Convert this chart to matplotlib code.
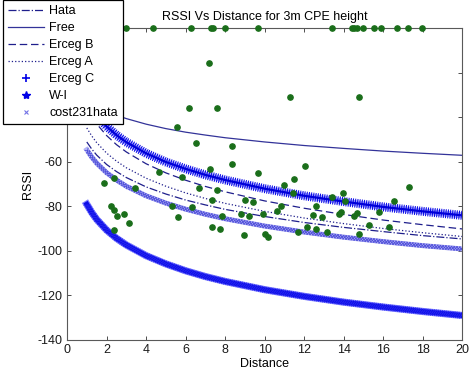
import numpy as np
import matplotlib
matplotlib.use("Agg")
import matplotlib.pyplot as plt
from matplotlib import patheffects as pe
from matplotlib.lines import Line2D

plt.rcParams['font.family'] = ['Liberation Sans', 'DejaVu Sans']

# --- model curves (RSSI in dB) at a few distances ---
dist = [1, 1.25, 1.5, 2, 2.5, 3, 4, 5, 6, 7, 8, 10, 12, 14, 16, 18, 20]
hata = [-51, -54.2, -56.9, -61.1, -64.3, -67.0, -71.2, -74.4, -77.1, -79.3,
        -81.3, -84.5, -87.2, -89.4, -91.3, -93.1, -94.6]
free = [-31, -32.9, -34.5, -37.0, -39.0, -40.5, -43.0, -45.0, -46.6, -47.9,
        -49.1, -51.0, -52.6, -53.9, -55.1, -56.1, -57.0]
erceg_b = [-35.5, -39.6, -42.9, -48.1, -52.2, -55.5, -60.8, -64.9, -68.2, -71.0,
           -73.4, -77.5, -80.8, -83.6, -86.1, -88.2, -90.1]
erceg_a = [-44.7, -48.3, -51.3, -56.0, -59.6, -62.6, -67.3, -70.9, -73.9, -76.4,
           -78.6, -82.2, -85.2, -87.7, -89.9, -91.8, -93.5]
erceg_c = [-32, -35.9, -39.0, -44.0, -47.9, -51.1, -56.1, -60.0, -63.1, -65.8,
           -68.1, -72.0, -75.2, -77.8, -80.2, -82.2, -84.0]
wi = [-79, -82.7, -85.8, -90.6, -94.3, -97.3, -102.1, -105.8, -108.9, -111.5,
      -113.7, -117.4, -120.4, -123.0, -125.2, -127.2, -129.0]
cost231 = [-54.5, -57.8, -60.5, -64.8, -68.1, -70.9, -75.2, -78.5, -81.2, -83.5,
           -85.5, -88.8, -91.5, -93.8, -95.8, -97.6, -99.1]

# --- measured RSSI ---
meas_d = [7.18, 6.17, 7.59, 11.28, 14.77, 5.56, 6.52, 8.34, 8.34, 7.23,
          9.66, 4.65, 5.82, 1.87, 2.38, 3.44, 6.68, 7.59, 7.33, 9.00,
          9.41, 2.23, 2.38, 2.53, 2.88, 3.14, 2.38, 5.31, 6.32, 5.61,
          7.84, 8.80, 9.20, 9.91, 7.33, 7.74, 8.95, 10.01, 10.16, 12.04,
          11.48, 10.97, 17.29, 13.96, 13.40, 11.43, 16.54, 14.06, 10.82, 10.62,
          12.59, 13.86, 13.76, 14.67, 14.51, 15.78, 12.44, 12.90, 15.27, 16.28,
          12.14, 12.59, 13.15, 11.68, 14.77]
meas_rssi = [-15.5, -35.7, -35.7, -30.8, -30.8, -44.3, -51.5, -52.8, -60.9, -63.1,
             -64.9, -64.5, -66.7, -69.4, -67.2, -71.7, -71.7, -72.6, -77.1, -77.1,
             -78.0, -79.8, -81.6, -84.3, -83.4, -87.4, -90.6, -79.8, -80.2, -84.7,
             -84.3, -83.4, -84.3, -83.4, -89.2, -90.1, -92.8, -92.4, -93.7, -61.8,
             -67.6, -70.3, -71.2, -73.9, -75.7, -73.9, -77.5, -77.5, -79.8, -82.0,
             -79.8, -82.5, -83.4, -82.9, -84.3, -82.5, -83.8, -84.7, -88.3, -89.2,
             -89.2, -90.1, -91.5, -91.5, -92.4]
# readings logged as 0 (no signal value) sit on the top edge
zero_d = [2.98, 4.35, 6.27, 7.28, 7.38, 7.99, 9.66, 13.4, 14.4, 14.5,
          14.67, 14.97, 15.5, 15.9, 16.7, 17.25, 17.96]
zero_rssi = [0] * len(zero_d)

xticks = list(range(0, 21, 2))
yticks = list(range(-140, 1, 20))
# the top three y labels sit under the legend box in the original
ytick_labels = [str(v) if v < -40 else '' for v in yticks]

navy = (0.12, 0.12, 0.55)
blue = (0.0, 0.0, 0.9)
green = (0.1, 0.43, 0.1)

fig = plt.figure(figsize=(4.74, 3.71), dpi=100)
ax = fig.add_axes([0.1414, 0.0836, 0.8343, 0.8396])

ax.plot(dist, hata, '-.', color=navy, lw=0.9)
ax.plot(dist, free, '-', color=(0.2, 0.2, 0.6), lw=0.9)
ax.plot(dist, erceg_b, '--', color=navy, lw=0.9, dashes=(6, 3))
ax.plot(dist, erceg_a, ':', color=navy, lw=0.9)

# dense-marker bands drawn with path effects
plus_fx = [pe.Stroke(linewidth=4.4, foreground=(0.62, 0.62, 1.0)),
           pe.TickedStroke(spacing=1.6, angle=90, length=1.8, linewidth=0.7, foreground=blue),
           pe.TickedStroke(spacing=1.6, angle=-90, length=1.8, linewidth=0.7, foreground=blue),
           pe.Stroke(linewidth=1.6, foreground=(0.0, 0.0, 0.85))]
ax.plot(dist, erceg_c, '-', lw=1, path_effects=plus_fx)

star_fx = [pe.Stroke(linewidth=5.2, foreground=(0.5, 0.5, 1.0)),
           pe.Stroke(linewidth=3.6, foreground=(0.05, 0.05, 0.9)),
           pe.TickedStroke(spacing=1.5, angle=60, length=1.6, linewidth=0.6, foreground=(0.15, 0.15, 0.95)),
           pe.TickedStroke(spacing=1.5, angle=-120, length=1.6, linewidth=0.6, foreground=(0.15, 0.15, 0.95))]
ax.plot(dist, wi, '-', lw=1, path_effects=star_fx)

x_col = (0.3, 0.3, 0.85)
cross_fx = [pe.Stroke(linewidth=3.6, foreground=(0.7, 0.7, 0.97))]
for a in (45, 135, -45, -135):
    cross_fx.append(pe.TickedStroke(spacing=2.0, angle=a, length=1.0, linewidth=0.6, foreground=x_col))
ax.plot(dist, cost231, '-', lw=1, path_effects=cross_fx)

ax.plot(meas_d, meas_rssi, 'o', color=green, ms=3.8, zorder=5)
ax.plot(zero_d, zero_rssi, 'o', color=green, ms=3.8, zorder=5, clip_on=False)

ax.set_xlim(0, 20)
ax.set_ylim(-140, 0)
ax.set_xticks(xticks)
ax.set_yticks(yticks)
ax.set_yticklabels(ytick_labels)
ax.tick_params(direction='in', length=3, width=0.7, top=True, right=True,
               labelsize=9, colors=(0.3, 0.3, 0.3), labelcolor=(0.1, 0.1, 0.1), pad=3)
for s in ax.spines.values():
    s.set_color((0.35, 0.35, 0.35))
    s.set_linewidth(0.8)

ax.set_title("RSSI Vs Distance for 3m CPE height", fontsize=9, pad=6)
ax.set_xlabel("Distance", fontsize=9, labelpad=1)
ax.set_ylabel("RSSI", fontsize=9, labelpad=3)

handles = [
    Line2D([], [], ls='-.', color=navy, lw=0.9),
    Line2D([], [], ls='-', color=(0.2, 0.2, 0.6), lw=0.9),
    Line2D([], [], ls='--', color=navy, lw=0.9, dashes=(6, 3)),
    Line2D([], [], ls=':', color=navy, lw=0.9),
    Line2D([], [], ls='none', marker='+', color=blue, ms=6, mew=1.2),
    Line2D([], [], ls='none', marker='*', color=blue, ms=6),
    Line2D([], [], ls='none', marker='x', color=(0.45, 0.45, 0.9), ms=3.5, mew=0.8),
]
labels = ['Hata', 'Free', 'Erceg B', 'Erceg A', 'Erceg C', 'W-I', 'cost231hata']
leg = fig.legend(handles, labels, loc='upper left', bbox_to_anchor=(3 / 474, 1.0),
                 fontsize=9, frameon=True, fancybox=False, framealpha=1,
                 edgecolor='black', borderaxespad=0, handlelength=2.9,
                 labelspacing=0.4, borderpad=0.4, handletextpad=0.4)
leg.get_frame().set_linewidth(0.9)

plt.savefig("out.png", dpi=100)
